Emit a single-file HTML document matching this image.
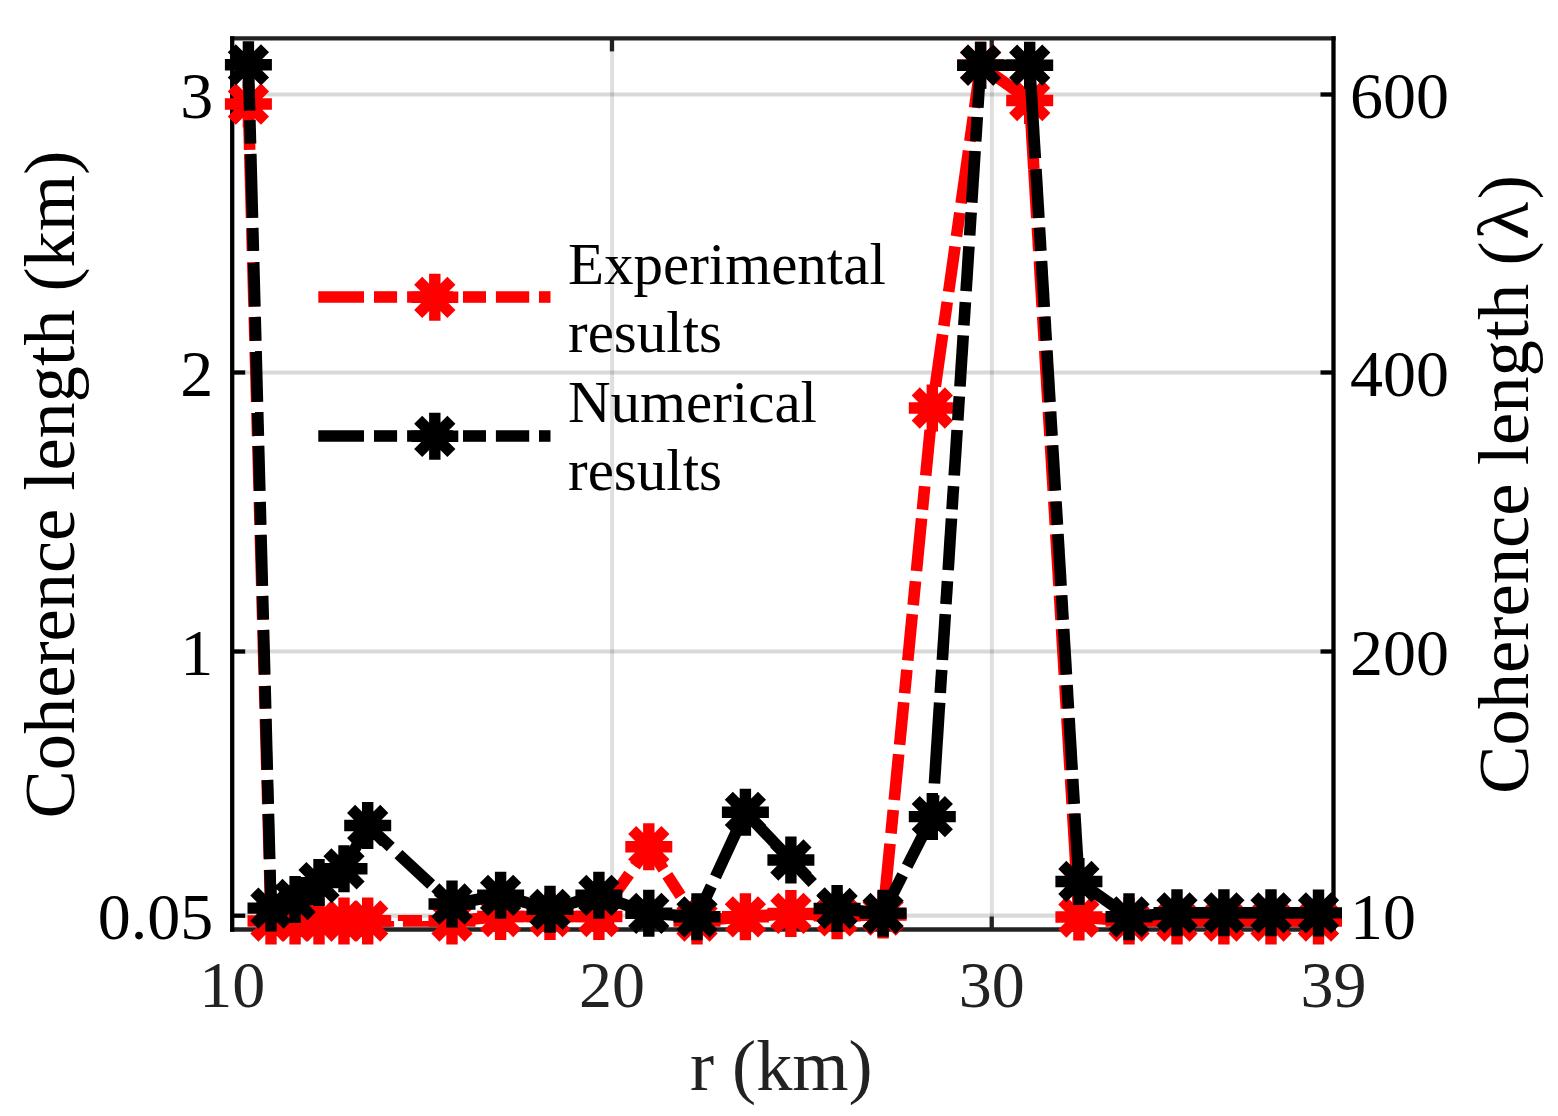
<!DOCTYPE html>
<html lang="en"><head><meta charset="utf-8"><title>Coherence length vs r</title>
<style>html,body{margin:0;padding:0;background:#fff;}body{width:1558px;height:1116px;overflow:hidden;}svg{display:block;}</style>
</head><body>
<svg width="1558" height="1116" viewBox="0 0 1558 1116" font-family="'Liberation Serif', 'Times New Roman', serif">
<rect width="1558" height="1116" fill="#fff"/>
<g stroke="#000" stroke-opacity="0.15" stroke-width="4.2" fill="none">
<line x1="232.2" y1="915.70" x2="1333.5" y2="915.70"/>
<line x1="232.2" y1="651.50" x2="1333.5" y2="651.50"/>
<line x1="232.2" y1="372.50" x2="1333.5" y2="372.50"/>
<line x1="232.2" y1="94.50" x2="1333.5" y2="94.50"/>
<line x1="612.11" y1="38.4" x2="612.11" y2="929.5" stroke-opacity="0.125" stroke-width="4"/>
<line x1="991.87" y1="38.4" x2="991.87" y2="929.5" stroke-opacity="0.125" stroke-width="4"/>
</g>
<g stroke="#222" stroke-width="4.3" fill="none">
<line x1="230.04999999999998" y1="38.4" x2="1335.65" y2="38.4"/>
<line x1="230.04999999999998" y1="929.5" x2="1335.65" y2="929.5"/>
<line x1="611.96" y1="38.4" x2="611.96" y2="51.4"/>
<line x1="611.96" y1="929.5" x2="611.96" y2="916.5"/>
<line x1="991.72" y1="38.4" x2="991.72" y2="51.4"/>
<line x1="991.72" y1="929.5" x2="991.72" y2="916.5"/>
</g>
<g stroke="#000" stroke-width="4.3" fill="none">
<line x1="232.2" y1="36.25" x2="232.2" y2="931.65"/>
<line x1="1333.5" y1="36.25" x2="1333.5" y2="931.65"/>
<line x1="232.2" y1="915.70" x2="245.2" y2="915.70"/>
<line x1="1333.5" y1="915.70" x2="1320.5" y2="915.70"/>
<line x1="232.2" y1="651.50" x2="245.2" y2="651.50"/>
<line x1="1333.5" y1="651.50" x2="1320.5" y2="651.50"/>
<line x1="232.2" y1="372.50" x2="245.2" y2="372.50"/>
<line x1="1333.5" y1="372.50" x2="1320.5" y2="372.50"/>
<line x1="232.2" y1="94.50" x2="245.2" y2="94.50"/>
<line x1="1333.5" y1="94.50" x2="1320.5" y2="94.50"/>
</g>
<g stroke="#f00" stroke-width="11.6" fill="none" stroke-linecap="butt">
<line x1="248.40" y1="104.00" x2="249.67" y2="149.90"/>
<line x1="249.78" y1="154.00" x2="251.55" y2="217.80"/>
<line x1="251.83" y1="228.00" x2="252.46" y2="250.90"/>
<line x1="252.78" y1="262.20" x2="254.00" y2="306.60"/>
<line x1="254.29" y1="317.00" x2="254.95" y2="340.80"/>
<line x1="255.24" y1="351.20" x2="256.64" y2="401.90"/>
<line x1="256.92" y1="412.10" x2="257.58" y2="436.00"/>
<line x1="257.86" y1="445.90" x2="259.10" y2="490.90"/>
<line x1="259.41" y1="502.00" x2="260.04" y2="524.80"/>
<line x1="260.32" y1="534.90" x2="261.73" y2="585.90"/>
<line x1="262.01" y1="596.00" x2="262.67" y2="619.70"/>
<line x1="262.95" y1="630.00" x2="264.18" y2="674.60"/>
<line x1="264.50" y1="686.00" x2="265.13" y2="708.70"/>
<line x1="265.41" y1="719.00" x2="266.82" y2="769.80"/>
<line x1="267.10" y1="780.00" x2="267.76" y2="804.00"/>
<line x1="268.03" y1="813.80" x2="269.29" y2="859.10"/>
<line x1="269.59" y1="869.90" x2="271.00" y2="921.00"/>
<line x1="271" y1="921" x2="295.1" y2="921"/>
<line x1="295.1" y1="921" x2="319" y2="921"/>
<line x1="319" y1="921" x2="344" y2="921"/>
<line x1="344" y1="921" x2="367.7" y2="921"/>
<path stroke-width="6" d="M367.7,918.1H390.4M397.9,918.1H422M428.9,918.1H452"/>
<path stroke-width="5.7" d="M367.7,923.9H394.1M402.9,923.9H452"/>
<line x1="452" y1="921" x2="500.6" y2="916.5"/>
<line x1="500.6" y1="916.5" x2="550" y2="916.5"/>
<line x1="550" y1="916.5" x2="598.9" y2="916.5"/>
<line x1="598.90" y1="916.50" x2="629.14" y2="874.20"/>
<line x1="634.96" y1="866.06" x2="648.80" y2="846.70"/>
<line x1="648.80" y1="846.70" x2="663.49" y2="869.35"/>
<line x1="667.30" y1="875.22" x2="680.64" y2="895.78"/>
<line x1="685.81" y1="903.75" x2="697.00" y2="921.00"/>
<line x1="697" y1="921" x2="745.4" y2="916.8"/>
<line x1="745.4" y1="916.8" x2="790.9" y2="913.4"/>
<line x1="790.9" y1="913.4" x2="837.1" y2="915.8"/>
<line x1="837.1" y1="915.8" x2="883.1" y2="915"/>
<line x1="932.30" y1="408.00" x2="931.11" y2="420.30"/>
<line x1="930.17" y1="430.00" x2="925.75" y2="475.50"/>
<line x1="924.71" y1="486.20" x2="922.44" y2="509.60"/>
<line x1="921.58" y1="518.50" x2="916.48" y2="571.00"/>
<line x1="915.49" y1="581.20" x2="913.17" y2="605.10"/>
<line x1="912.30" y1="614.10" x2="907.80" y2="660.50"/>
<line x1="906.89" y1="669.80" x2="904.62" y2="693.20"/>
<line x1="903.75" y1="702.20" x2="899.62" y2="744.80"/>
<line x1="898.69" y1="754.30" x2="894.26" y2="800.00"/>
<line x1="893.29" y1="810.00" x2="891.02" y2="833.40"/>
<line x1="890.02" y1="843.70" x2="883.10" y2="915.00"/>
<line x1="980.60" y1="65.20" x2="974.61" y2="107.70"/>
<line x1="973.30" y1="117.00" x2="969.86" y2="141.40"/>
<line x1="968.55" y1="150.70" x2="961.14" y2="203.30"/>
<line x1="959.82" y1="212.70" x2="956.48" y2="236.40"/>
<line x1="955.06" y1="246.50" x2="948.67" y2="291.80"/>
<line x1="947.24" y1="302.00" x2="943.87" y2="325.90"/>
<line x1="942.67" y1="334.40" x2="935.33" y2="386.50"/>
<line x1="933.93" y1="396.40" x2="932.30" y2="408.00"/>
<line x1="980.6" y1="65.2" x2="1029.7" y2="100.5"/>
<line x1="1029.70" y1="100.50" x2="1033.84" y2="169.20"/>
<line x1="1033.84" y1="169.20" x2="1036.78" y2="218.00"/>
<line x1="1037.36" y1="227.60" x2="1038.76" y2="250.80"/>
<line x1="1039.38" y1="261.20" x2="1042.14" y2="307.00"/>
<line x1="1042.72" y1="316.60" x2="1044.17" y2="340.70"/>
<line x1="1044.77" y1="350.60" x2="1047.87" y2="402.10"/>
<line x1="1048.45" y1="411.70" x2="1049.91" y2="435.90"/>
<line x1="1050.48" y1="445.30" x2="1053.21" y2="490.70"/>
<line x1="1053.86" y1="501.50" x2="1055.27" y2="524.80"/>
<line x1="1055.83" y1="534.10" x2="1058.95" y2="585.90"/>
<line x1="1059.52" y1="595.30" x2="1061.00" y2="619.90"/>
<line x1="1061.55" y1="629.00" x2="1064.30" y2="674.70"/>
<line x1="1064.93" y1="685.10" x2="1066.34" y2="708.50"/>
<line x1="1066.92" y1="718.20" x2="1070.04" y2="770.00"/>
<line x1="1070.58" y1="779.00" x2="1072.08" y2="803.80"/>
<line x1="1072.66" y1="813.50" x2="1078.90" y2="917.00"/>
<line x1="1078.9" y1="917" x2="1129" y2="921"/>
<line x1="1129" y1="921" x2="1177" y2="921"/>
<line x1="1177" y1="921" x2="1223.9" y2="921"/>
<line x1="1223.9" y1="921" x2="1271" y2="921"/>
<line x1="1271" y1="921" x2="1318.5" y2="921"/>
<path stroke-width="11.4" d="M224.90,104.00h47.0M248.40,80.50v47.0M231.78,87.38l33.23,33.23M231.78,120.62l33.23,-33.23M247.50,921.00h47.0M271.00,897.50v47.0M254.38,904.38l33.23,33.23M254.38,937.62l33.23,-33.23M271.60,921.00h47.0M295.10,897.50v47.0M278.48,904.38l33.23,33.23M278.48,937.62l33.23,-33.23M295.50,921.00h47.0M319.00,897.50v47.0M302.38,904.38l33.23,33.23M302.38,937.62l33.23,-33.23M320.50,921.00h47.0M344.00,897.50v47.0M327.38,904.38l33.23,33.23M327.38,937.62l33.23,-33.23M344.20,921.00h47.0M367.70,897.50v47.0M351.08,904.38l33.23,33.23M351.08,937.62l33.23,-33.23M428.50,921.00h47.0M452.00,897.50v47.0M435.38,904.38l33.23,33.23M435.38,937.62l33.23,-33.23M477.10,916.50h47.0M500.60,893.00v47.0M483.98,899.88l33.23,33.23M483.98,933.12l33.23,-33.23M526.50,916.50h47.0M550.00,893.00v47.0M533.38,899.88l33.23,33.23M533.38,933.12l33.23,-33.23M575.40,916.50h47.0M598.90,893.00v47.0M582.28,899.88l33.23,33.23M582.28,933.12l33.23,-33.23M625.30,846.70h47.0M648.80,823.20v47.0M632.18,830.08l33.23,33.23M632.18,863.32l33.23,-33.23M673.50,921.00h47.0M697.00,897.50v47.0M680.38,904.38l33.23,33.23M680.38,937.62l33.23,-33.23M721.90,916.80h47.0M745.40,893.30v47.0M728.78,900.18l33.23,33.23M728.78,933.42l33.23,-33.23M767.40,913.40h47.0M790.90,889.90v47.0M774.28,896.78l33.23,33.23M774.28,930.02l33.23,-33.23M813.60,915.80h47.0M837.10,892.30v47.0M820.48,899.18l33.23,33.23M820.48,932.42l33.23,-33.23M859.60,915.00h47.0M883.10,891.50v47.0M866.48,898.38l33.23,33.23M866.48,931.62l33.23,-33.23M908.80,408.00h47.0M932.30,384.50v47.0M915.68,391.38l33.23,33.23M915.68,424.62l33.23,-33.23M957.10,65.20h47.0M980.60,41.70v47.0M963.98,48.58l33.23,33.23M963.98,81.82l33.23,-33.23M1006.20,100.50h47.0M1029.70,77.00v47.0M1013.08,83.88l33.23,33.23M1013.08,117.12l33.23,-33.23M1055.40,917.00h47.0M1078.90,893.50v47.0M1062.28,900.38l33.23,33.23M1062.28,933.62l33.23,-33.23M1105.50,921.00h47.0M1129.00,897.50v47.0M1112.38,904.38l33.23,33.23M1112.38,937.62l33.23,-33.23M1153.50,921.00h47.0M1177.00,897.50v47.0M1160.38,904.38l33.23,33.23M1160.38,937.62l33.23,-33.23M1200.40,921.00h47.0M1223.90,897.50v47.0M1207.28,904.38l33.23,33.23M1207.28,937.62l33.23,-33.23M1247.50,921.00h47.0M1271.00,897.50v47.0M1254.38,904.38l33.23,33.23M1254.38,937.62l33.23,-33.23M1295.00,921.00h47.0M1318.50,897.50v47.0M1301.88,904.38l33.23,33.23M1301.88,937.62l33.23,-33.23"/>
</g>
<g stroke="#000" stroke-width="11.6" fill="none" stroke-linecap="butt">
<line x1="248.40" y1="64.80" x2="249.63" y2="110.70"/>
<line x1="249.88" y1="120.00" x2="250.51" y2="143.60"/>
<line x1="250.79" y1="154.00" x2="252.50" y2="217.80"/>
<line x1="252.77" y1="228.00" x2="253.39" y2="250.90"/>
<line x1="253.69" y1="262.20" x2="254.88" y2="306.60"/>
<line x1="255.16" y1="317.00" x2="255.80" y2="340.80"/>
<line x1="256.08" y1="351.20" x2="257.43" y2="401.90"/>
<line x1="257.71" y1="412.10" x2="258.35" y2="436.00"/>
<line x1="258.61" y1="445.90" x2="259.82" y2="490.90"/>
<line x1="260.12" y1="502.00" x2="260.73" y2="524.80"/>
<line x1="261.00" y1="534.90" x2="262.37" y2="585.90"/>
<line x1="262.64" y1="596.00" x2="263.27" y2="619.70"/>
<line x1="263.55" y1="630.00" x2="264.74" y2="674.60"/>
<line x1="265.05" y1="686.00" x2="265.66" y2="708.70"/>
<line x1="265.93" y1="719.00" x2="267.29" y2="769.80"/>
<line x1="267.57" y1="780.00" x2="268.21" y2="804.00"/>
<line x1="268.47" y1="813.80" x2="269.69" y2="859.10"/>
<line x1="269.98" y1="869.90" x2="271.00" y2="908.10"/>
<line x1="271.0" y1="908.1" x2="295.1" y2="899.5"/>
<line x1="295.1" y1="899.5" x2="319" y2="882.6"/>
<line x1="319" y1="882.6" x2="344" y2="868.8"/>
<line x1="344" y1="868.8" x2="367.7" y2="825.5"/>
<line x1="367.70" y1="825.50" x2="390.75" y2="846.97"/>
<line x1="398.44" y1="854.12" x2="431.15" y2="884.58"/>
<line x1="437.96" y1="890.92" x2="452.00" y2="904.00"/>
<line x1="452" y1="904.0" x2="500.6" y2="895.3"/>
<line x1="500.6" y1="895.3" x2="550" y2="909.3"/>
<line x1="550" y1="909.3" x2="598.9" y2="895.3"/>
<line x1="598.9" y1="895.3" x2="648.8" y2="913.3"/>
<line x1="648.8" y1="913.3" x2="697" y2="916.8"/>
<line x1="697.00" y1="916.80" x2="711.29" y2="885.95"/>
<line x1="715.49" y1="876.87" x2="745.40" y2="812.30"/>
<line x1="745.4" y1="812.3" x2="790.9" y2="860"/>
<line x1="790.90" y1="860.00" x2="812.70" y2="882.88"/>
<line x1="820.56" y1="891.13" x2="837.10" y2="908.50"/>
<line x1="837.1" y1="908.5" x2="883.1" y2="913.3"/>
<line x1="883.10" y1="913.30" x2="902.60" y2="874.98"/>
<line x1="907.13" y1="866.06" x2="932.30" y2="816.60"/>
<line x1="980.60" y1="65.20" x2="977.87" y2="107.70"/>
<line x1="977.27" y1="117.00" x2="975.70" y2="141.40"/>
<line x1="975.08" y1="151.00" x2="971.77" y2="202.60"/>
<line x1="971.14" y1="212.30" x2="969.65" y2="235.50"/>
<line x1="968.96" y1="246.30" x2="966.07" y2="291.20"/>
<line x1="965.37" y1="302.20" x2="963.87" y2="325.40"/>
<line x1="963.24" y1="335.30" x2="959.95" y2="386.50"/>
<line x1="959.31" y1="396.40" x2="957.77" y2="420.30"/>
<line x1="957.15" y1="430.00" x2="954.23" y2="475.50"/>
<line x1="953.54" y1="486.20" x2="952.05" y2="509.30"/>
<line x1="951.46" y1="518.50" x2="948.15" y2="570.10"/>
<line x1="947.43" y1="581.20" x2="945.95" y2="604.20"/>
<line x1="945.32" y1="614.10" x2="942.37" y2="660.00"/>
<line x1="941.74" y1="669.80" x2="940.25" y2="693.00"/>
<line x1="939.63" y1="702.60" x2="934.43" y2="783.50"/>
<line x1="933.69" y1="795.00" x2="932.30" y2="816.60"/>
<line x1="980.6" y1="65.2" x2="1029.7" y2="65.2"/>
<line x1="1029.70" y1="65.20" x2="1035.31" y2="158.30"/>
<line x1="1035.97" y1="169.20" x2="1038.91" y2="218.00"/>
<line x1="1039.49" y1="227.60" x2="1040.89" y2="250.80"/>
<line x1="1041.51" y1="261.20" x2="1044.27" y2="307.00"/>
<line x1="1044.85" y1="316.60" x2="1046.30" y2="340.70"/>
<line x1="1046.90" y1="350.60" x2="1050.01" y2="402.10"/>
<line x1="1050.58" y1="411.70" x2="1052.04" y2="435.90"/>
<line x1="1052.61" y1="445.30" x2="1055.35" y2="490.70"/>
<line x1="1056.00" y1="501.50" x2="1057.40" y2="524.80"/>
<line x1="1057.96" y1="534.10" x2="1061.08" y2="585.90"/>
<line x1="1061.65" y1="595.30" x2="1063.13" y2="619.90"/>
<line x1="1063.68" y1="629.00" x2="1066.44" y2="674.70"/>
<line x1="1067.06" y1="685.10" x2="1068.47" y2="708.50"/>
<line x1="1069.06" y1="718.20" x2="1072.18" y2="770.00"/>
<line x1="1072.72" y1="779.00" x2="1074.22" y2="803.80"/>
<line x1="1074.80" y1="813.50" x2="1078.90" y2="881.50"/>
<line x1="1078.9" y1="881.5" x2="1129" y2="916.8"/>
<line x1="1129" y1="916.8" x2="1177" y2="912.8"/>
<line x1="1177" y1="912.8" x2="1223.9" y2="912.8"/>
<line x1="1223.9" y1="912.8" x2="1271" y2="912.8"/>
<line x1="1271" y1="912.8" x2="1318.5" y2="912.9"/>
<path stroke-width="11.4" d="M224.90,64.80h47.0M248.40,41.30v47.0M231.78,48.18l33.23,33.23M231.78,81.42l33.23,-33.23M247.50,908.10h47.0M271.00,884.60v47.0M254.38,891.48l33.23,33.23M254.38,924.72l33.23,-33.23M271.60,899.50h47.0M295.10,876.00v47.0M278.48,882.88l33.23,33.23M278.48,916.12l33.23,-33.23M295.50,882.60h47.0M319.00,859.10v47.0M302.38,865.98l33.23,33.23M302.38,899.22l33.23,-33.23M320.50,868.80h47.0M344.00,845.30v47.0M327.38,852.18l33.23,33.23M327.38,885.42l33.23,-33.23M344.20,825.50h47.0M367.70,802.00v47.0M351.08,808.88l33.23,33.23M351.08,842.12l33.23,-33.23M428.50,904.00h47.0M452.00,880.50v47.0M435.38,887.38l33.23,33.23M435.38,920.62l33.23,-33.23M477.10,895.30h47.0M500.60,871.80v47.0M483.98,878.68l33.23,33.23M483.98,911.92l33.23,-33.23M526.50,909.30h47.0M550.00,885.80v47.0M533.38,892.68l33.23,33.23M533.38,925.92l33.23,-33.23M575.40,895.30h47.0M598.90,871.80v47.0M582.28,878.68l33.23,33.23M582.28,911.92l33.23,-33.23M625.30,913.30h47.0M648.80,889.80v47.0M632.18,896.68l33.23,33.23M632.18,929.92l33.23,-33.23M673.50,916.80h47.0M697.00,893.30v47.0M680.38,900.18l33.23,33.23M680.38,933.42l33.23,-33.23M721.90,812.30h47.0M745.40,788.80v47.0M728.78,795.68l33.23,33.23M728.78,828.92l33.23,-33.23M767.40,860.00h47.0M790.90,836.50v47.0M774.28,843.38l33.23,33.23M774.28,876.62l33.23,-33.23M813.60,908.50h47.0M837.10,885.00v47.0M820.48,891.88l33.23,33.23M820.48,925.12l33.23,-33.23M859.60,913.30h47.0M883.10,889.80v47.0M866.48,896.68l33.23,33.23M866.48,929.92l33.23,-33.23M908.80,816.60h47.0M932.30,793.10v47.0M915.68,799.98l33.23,33.23M915.68,833.22l33.23,-33.23M957.10,65.20h47.0M980.60,41.70v47.0M963.98,48.58l33.23,33.23M963.98,81.82l33.23,-33.23M1006.20,65.20h47.0M1029.70,41.70v47.0M1013.08,48.58l33.23,33.23M1013.08,81.82l33.23,-33.23M1055.40,881.50h47.0M1078.90,858.00v47.0M1062.28,864.88l33.23,33.23M1062.28,898.12l33.23,-33.23M1105.50,916.80h47.0M1129.00,893.30v47.0M1112.38,900.18l33.23,33.23M1112.38,933.42l33.23,-33.23M1153.50,912.80h47.0M1177.00,889.30v47.0M1160.38,896.18l33.23,33.23M1160.38,929.42l33.23,-33.23M1200.40,912.80h47.0M1223.90,889.30v47.0M1207.28,896.18l33.23,33.23M1207.28,929.42l33.23,-33.23M1247.50,912.80h47.0M1271.00,889.30v47.0M1254.38,896.18l33.23,33.23M1254.38,929.42l33.23,-33.23M1295.00,912.90h47.0M1318.50,889.40v47.0M1301.88,896.28l33.23,33.23M1301.88,929.52l33.23,-33.23"/>
</g>
<g stroke="#f00" stroke-width="11.6" fill="none">
<line x1="318.3" y1="297.0" x2="364" y2="297.0"/>
<line x1="374" y1="297.0" x2="397.1" y2="297.0"/>
<line x1="407.1" y1="297.0" x2="453" y2="297.0"/>
<line x1="463" y1="297.0" x2="486" y2="297.0"/>
<line x1="495.9" y1="297.0" x2="529.2" y2="297.0"/>
<line x1="539" y1="297.0" x2="550.5" y2="297.0"/>
<path stroke-width="11.4" d="M411.30,297.30h47.0M434.80,273.80v47.0M418.18,280.68l33.23,33.23M418.18,313.92l33.23,-33.23"/>
</g>
<g stroke="#000" stroke-width="11.6" fill="none">
<line x1="318.3" y1="436.0" x2="364" y2="436.0"/>
<line x1="374" y1="436.0" x2="397.1" y2="436.0"/>
<line x1="407.1" y1="436.0" x2="453" y2="436.0"/>
<line x1="463" y1="436.0" x2="486" y2="436.0"/>
<line x1="495.9" y1="436.0" x2="529.2" y2="436.0"/>
<line x1="539" y1="436.0" x2="550.5" y2="436.0"/>
<path stroke-width="11.4" d="M411.30,436.30h47.0M434.80,412.80v47.0M418.18,419.68l33.23,33.23M418.18,452.92l33.23,-33.23"/>
</g>
<g font-size="59.0" fill="#000">
<text x="568" y="284">Experimental</text>
<text x="568" y="352.3">results</text>
<text x="568" y="421.6">Numerical</text>
<text x="568" y="490.2">results</text>
</g>
<g font-size="66.0" fill="#000" text-anchor="end">
<text x="213.2" y="118.00">3</text>
<text x="213.2" y="396.00">2</text>
<text x="213.2" y="675.00">1</text>
<text x="213.2" y="939.20">0.05</text>
</g>
<g font-size="66.0" fill="#000" text-anchor="start">
<text x="1350" y="118.00">600</text>
<text x="1350" y="396.00">400</text>
<text x="1350" y="675.00">200</text>
<text x="1350" y="939.20">10</text>
</g>
<g font-size="66.0" fill="#222" text-anchor="middle">
<text x="232.20" y="1006.5">10</text>
<text x="611.96" y="1006.5">20</text>
<text x="991.72" y="1006.5">30</text>
<text x="1333.50" y="1006.5">39</text>
</g>
<text x="781.3" y="1089.6" font-size="72.3" fill="#222" text-anchor="middle">r (km)</text>
<text transform="translate(74,484.6) rotate(-90)" font-size="72.45" fill="#000" text-anchor="middle">Coherence length (km)</text>
<text transform="translate(1528,794.0) rotate(-90)" font-size="72.65" fill="#000" text-anchor="start">Coherence length (<tspan dx="1.6" textLength="38.0" lengthAdjust="spacingAndGlyphs">λ</tspan><tspan dx="2.6">)</tspan></text>
</svg>
</body></html>
